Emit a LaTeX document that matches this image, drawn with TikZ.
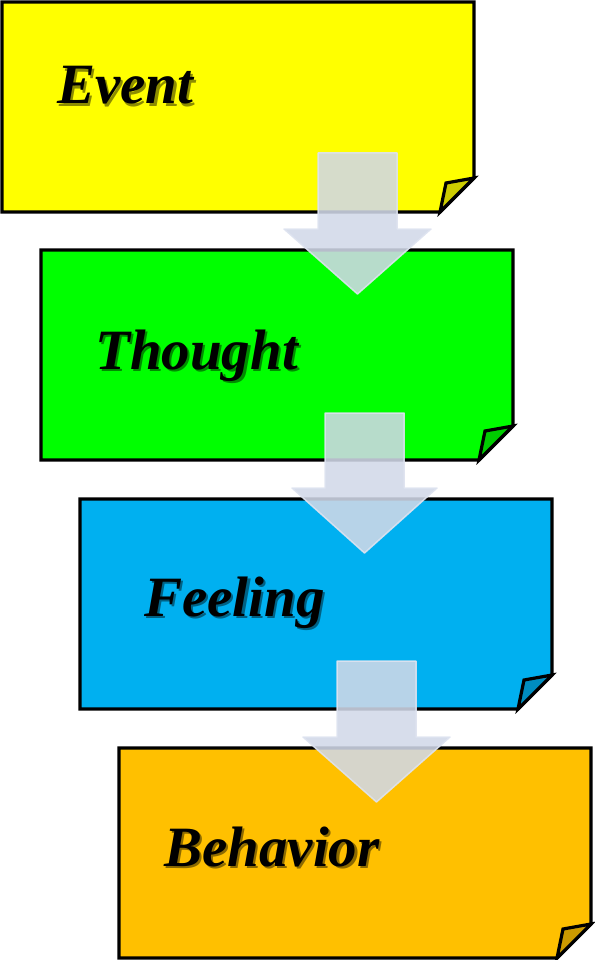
\documentclass[tikz,border=0pt]{standalone}
\usepackage{fontspec}
\setmainfont{Liberation Serif}
\usepackage{tkz-euclide}
\usetikzlibrary{calc}
\definecolor{EventClr}{RGB}{255,255,0}
\definecolor{ThoughtClr}{RGB}{0,255,0}
\definecolor{FeelingClr}{RGB}{0,176,240}
\definecolor{BehaviorClr}{RGB}{255,192,0}
\definecolor{ArrowClr}{RGB}{209,216,232}
\definecolor{ArrowEdgeClr}{RGB}{222,227,240}

% text with a soft drop shadow in a darker shade of the box colour
\newcommand{\ShdText}[2]{%
  \makebox[0pt][l]{\kern2.2pt\raisebox{-2.2pt}{\color{#1!55!black}#2}}%
  #2}

\begin{document}
\begin{tikzpicture}[x=1pt,y=-1pt,
  notebox/.style={line width=3.2pt,draw=black,line join=miter},
  boxtext/.style={anchor=base west,inner sep=0pt,
    font=\fontsize{57}{60}\selectfont\bfseries\itshape}]
\useasboundingbox (0,0) rectangle (594,960);

\tkzDefPoints{2/2/Ev1,474/2/Ev2,474/178/Ev3,440/212/Ev4,2/212/Ev5,446/183/EvF}
\tkzDefPoints{41/250/Th1,513/250/Th2,513/426/Th3,479/460/Th4,41/460/Th5,485/431/ThF}
\tkzDefPoints{80/499/Fe1,552/499/Fe2,552/675/Fe3,518/709/Fe4,80/709/Fe5,524/680/FeF}
\tkzDefPoints{119/748/Be1,591/748/Be2,591/924/Be3,557/958/Be4,119/958/Be5,563/929/BeF}

\tkzDefPoints{318/153/Ua1,397/153/Ua2,397/229/Ua3,431/229/Ua4,357.5/294/Ua5,284/229/Ua6,318/229/Ua7}
\tkzDefPoints{325/413/Ub1,404/413/Ub2,404/488/Ub3,437/488/Ub4,364.5/553/Ub5,292/488/Ub6,325/488/Ub7}
\tkzDefPoints{337/661/Uc1,416/661/Uc2,416/737/Uc3,450/737/Uc4,376.5/802/Uc5,303/737/Uc6,337/737/Uc7}

\tikzset{arrowbox/.style={fill=ArrowClr,fill opacity=.88,draw=ArrowEdgeClr,
  draw opacity=.9,line width=1.5pt}}

\draw[notebox,fill=EventClr] (Ev1)--(Ev2)--(Ev3)--(Ev4)--(Ev5)--cycle;
\draw[notebox,fill=EventClr!80!black] (Ev3)--(EvF)--(Ev4)--cycle;
\node[boxtext] (event) at (57,104) {\ShdText{EventClr}{Event}};

\draw[notebox,fill=ThoughtClr] (Th1)--(Th2)--(Th3)--(Th4)--(Th5)--cycle;
\draw[notebox,fill=ThoughtClr!80!black] (Th3)--(ThF)--(Th4)--cycle;
\node[boxtext] (thought) at (95,369) {\ShdText{ThoughtClr}{Thought}};

\tkzDrawPolygon[arrowbox](Ua1,Ua2,Ua3,Ua4,Ua5,Ua6,Ua7)

\draw[notebox,fill=FeelingClr] (Fe1)--(Fe2)--(Fe3)--(Fe4)--(Fe5)--cycle;
\draw[notebox,fill=FeelingClr!80!black] (Fe3)--(FeF)--(Fe4)--cycle;
\node[boxtext] (feeling) at (144,616) {\ShdText{FeelingClr}{Feeling}};

\tkzDrawPolygon[arrowbox](Ub1,Ub2,Ub3,Ub4,Ub5,Ub6,Ub7)

\draw[notebox,fill=BehaviorClr] (Be1)--(Be2)--(Be3)--(Be4)--(Be5)--cycle;
\draw[notebox,fill=BehaviorClr!80!black] (Be3)--(BeF)--(Be4)--cycle;
\node[boxtext] (behavior) at (164,866) {\ShdText{BehaviorClr}{Behavior}};

\tkzDrawPolygon[arrowbox](Uc1,Uc2,Uc3,Uc4,Uc5,Uc6,Uc7)

\end{tikzpicture}
\end{document}
